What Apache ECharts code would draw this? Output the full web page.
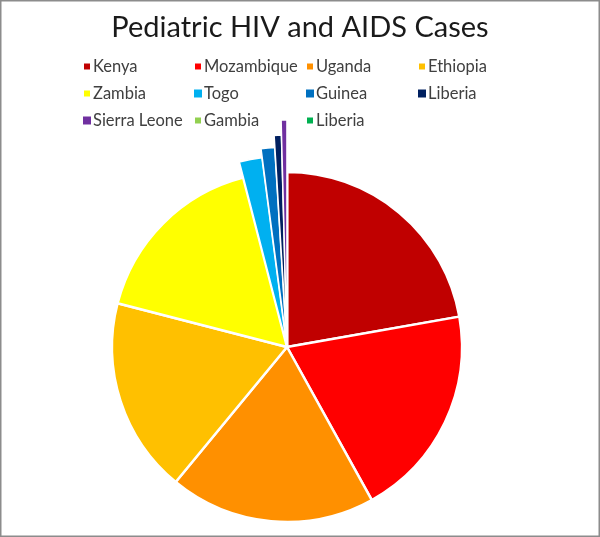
<!DOCTYPE html>
<html>
<head>
<meta charset="utf-8">
<script src="https://cdn.jsdelivr.net/npm/echarts@6/dist/echarts.min.js"></script>
<style>
html,body{margin:0;padding:0;background:#fff;}
#c{width:600px;height:537px;}
</style>
</head>
<body>
<div id="c"></div>
<script>
// ---- data ----
const titleText = 'Pediatric HIV and AIDS Cases';
const categories = ['Kenya','Mozambique','Uganda','Ethiopia','Zambia','Togo','Guinea','Liberia','Sierra Leone','Gambia','Liberia'];
const cases = [160, 142, 137, 130, 122, 14, 8, 4, 3, 0, 0];
const sliceColors = ['#C00000','#FF0000','#FF9000','#FFC000','#FFFF00','#00B0F0','#0070C0','#002060','#7030A0','#92D050','#00B050'];
// outer radius of the pulled-out small slices (0 = regular slice)
const pulledRadius = [0, 0, 0, 0, 0, 188, 197, 209, 224, 0, 0];

// unique internal names (second "Liberia" gets an invisible marker)
const seen = {};
const names = categories.map(c => {
  seen[c] = (seen[c] || 0) + 1;
  return c + '\u200b'.repeat(seen[c] - 1);
});

const CENTER = [287, 347];
const RADIUS = 175;

function makeData(visibleIdx, selIdx, bw) {
  return names.map((n, i) => {
    const vis = visibleIdx(i);
    const item = {
      name: n,
      value: cases[i],
      itemStyle: vis
        ? { color: sliceColors[i], borderColor: '#fff', borderWidth: bw }
        : { color: 'rgba(0,0,0,0)', borderWidth: 0 }
    };
    if (i === selIdx) item.selected = true;
    return item;
  });
}

const series = [{
  type: 'pie',
  center: CENTER,
  radius: RADIUS,
  startAngle: 90,
  clockwise: true,
  label: { show: false },
  labelLine: { show: false },
  emphasis: { disabled: true },
  data: makeData(i => pulledRadius[i] === 0, -1, 2.5)
}];
pulledRadius.forEach((r, idx) => {
  if (r > 0) {
    series.push({
      type: 'pie',
      center: CENTER,
      radius: r,
      startAngle: 90,
      clockwise: true,
      selectedMode: 'multiple',
      selectedOffset: 3,
      label: { show: false },
      labelLine: { show: false },
      emphasis: { disabled: true },
      data: makeData(i => i === idx, idx, 1.5)
    });
  }
});

const colLeft = [82, 193, 305, 417];
const legends = colLeft.map((left, c) => ({
  orient: 'vertical',
  left: left,
  top: 58,
  padding: 0,
  icon: 'rect',
  itemWidth: 8,
  itemHeight: 8,
  itemGap: 10,
  selectedMode: false,
  formatter: n => n.replace(/\u200b/g, ''),
  textStyle: { fontFamily: 'Lato', fontSize: 16.5, color: '#404040', padding: [0, 0, 0, -3], lineHeight: 17 },
  data: names.map((n, i) => ({ name: n, i }))
    .filter(o => o.i % 4 === c)
    .map(o => ({ name: o.name, itemStyle: { color: sliceColors[o.i] } }))
}));

const chart = echarts.init(document.getElementById('c'), null, { renderer: 'canvas' });
chart.setOption({
  animation: false,
  backgroundColor: '#fff',
  title: {
    text: titleText,
    left: 'center',
    top: 8,
    textStyle: { fontFamily: 'Lato', fontWeight: 'normal', fontSize: 29, color: '#1a1a1a' }
  },
  legend: legends,
  graphic: [{
    type: 'rect',
    shape: { x: 0.75, y: 0.75, width: 598.5, height: 535.5 },
    style: { fill: 'none', stroke: '#8c8c8c', lineWidth: 1.5 },
    silent: true
  }],
  series: series
});
</script>
</body>
</html>
